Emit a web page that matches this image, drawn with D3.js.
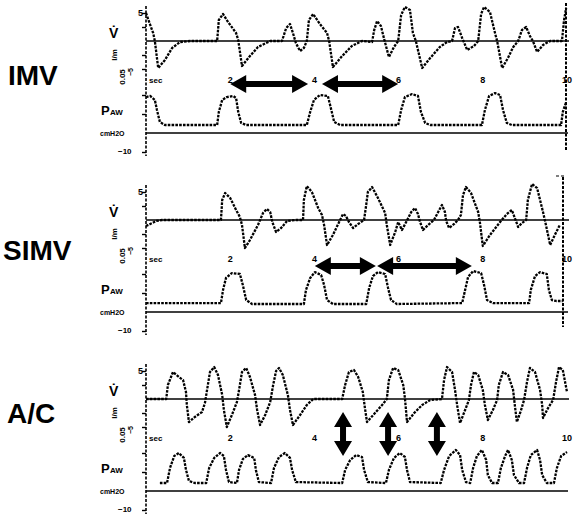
<!DOCTYPE html>
<html><head><meta charset="utf-8">
<script src="https://cdn.jsdelivr.net/npm/d3@7"></script>
<style>body{margin:0;background:#fff}svg{display:block}</style>
</head><body><svg id="c" width="583" height="517"></svg>
<script>
const modes = ["IMV", "SIMV", "A/C"];
const timeTicks = [2, 4, 6, 8, 10];

// Flow (l/s) vs time (s)
const imvFlow = [[0,5.0],[0.10,2.86],[0.17,1.43],[0.21,0],[0.29,-4.82],[0.45,-3.39],[0.62,-1.25],[0.81,-0.18],[1.05,0],[1.69,0],[1.73,3.75],[1.83,4.82],[1.95,3.39],[2.14,1.43],[2.19,0.18],[2.28,-4.46],[2.47,-2.68],[2.66,-1.07],[2.95,0],[3.23,0],[3.33,2.32],[3.42,3.04],[3.49,1.43],[3.56,-0.36],[3.66,-1.79],[3.75,-1.25],[3.82,0],[3.87,3.75],[3.97,4.82],[4.13,3.04],[4.30,1.43],[4.35,0],[4.44,-4.64],[4.66,-2.68],[4.89,-0.89],[5.13,0],[5.37,-0.18],[5.42,1.96],[5.49,3.57],[5.58,2.68],[5.65,0.54],[5.77,-2.86],[5.89,-1.07],[5.99,0],[6.06,4.64],[6.15,6.07],[6.27,5.54],[6.34,1.43],[6.41,0],[6.56,-4.82],[6.75,-3.04],[6.98,-1.07],[7.15,-0.18],[7.27,0],[7.34,2.32],[7.41,2.5],[7.51,0.54],[7.63,-1.61],[7.79,-0.89],[7.89,0],[7.96,4.82],[8.03,6.07],[8.17,5.18],[8.29,1.43],[8.34,0],[8.46,-4.82],[8.60,-3.0],[8.72,-1.1],[8.84,0],[8.93,1.96],[9.03,2.5],[9.12,0.89],[9.19,0],[9.29,-1.96],[9.43,-0.71],[9.60,0],[9.88,0],[9.93,3.75],[9.98,5.89]];
const simvFlow = [[0,-1.07],[0.10,-0.71],[0.24,-0.18],[0.38,0],[1.78,0],[1.81,3.57],[1.88,4.82],[2.00,3.93],[2.14,1.79],[2.23,0.54],[2.28,-0.89],[2.35,-5.0],[2.47,-3.57],[2.66,-0.89],[2.78,1.25],[2.87,1.96],[2.95,1.43],[3.0,-0.36],[3.09,-2.14],[3.21,-1.43],[3.35,-0.18],[3.54,0],[3.73,0],[3.75,3.57],[3.82,6.07],[3.94,5.0],[4.09,2.14],[4.18,0.89],[4.23,-0.89],[4.30,-4.46],[4.44,-2.68],[4.61,0],[4.68,1.07],[4.75,0.71],[4.82,-0.36],[4.92,-1.43],[5.04,-0.71],[5.18,0],[5.23,2.68],[5.27,5.0],[5.37,5.89],[5.51,3.93],[5.68,1.25],[5.72,-0.89],[5.80,-4.46],[5.92,-2.14],[5.99,-0.36],[6.08,-1.79],[6.18,-0.36],[6.30,1.43],[6.39,2.14],[6.46,1.07],[6.51,-0.36],[6.58,-1.79],[6.70,-0.89],[6.84,0],[6.94,1.43],[7.03,2.68],[7.10,1.43],[7.13,-0.18],[7.20,-1.43],[7.32,-0.71],[7.41,0],[7.48,0.89],[7.53,4.46],[7.60,5.89],[7.72,4.82],[7.89,1.43],[7.93,-0.36],[8.0,-4.64],[8.17,-2.68],[8.41,-0.36],[8.57,1.07],[8.69,1.79],[8.76,0.36],[8.84,-1.25],[8.93,-0.54],[9.03,0],[9.07,3.57],[9.17,6.43],[9.29,5.71],[9.43,1.43],[9.50,-0.89],[9.60,-4.46],[9.71,-2.68],[9.83,-0.89]];
const acFlow = [[0,0],[0.48,0],[0.52,2.5],[0.64,4.82],[0.78,3.93],[0.88,3.39],[0.95,1.25],[0.97,-1.07],[1.02,-4.11],[1.16,-3.21],[1.33,-2.32],[1.40,-0.71],[1.45,1.61],[1.52,4.82],[1.62,5.71],[1.71,4.29],[1.81,0.71],[1.85,-1.96],[1.92,-5.0],[2.04,-2.86],[2.16,-0.54],[2.21,1.61],[2.28,4.82],[2.38,5.54],[2.47,3.93],[2.59,0.71],[2.64,-1.96],[2.71,-4.64],[2.83,-2.86],[2.95,-0.54],[3.02,2.5],[3.09,5.0],[3.16,5.54],[3.25,4.29],[3.37,0.71],[3.42,-1.96],[3.49,-4.64],[3.66,-2.86],[3.82,-1.07],[3.97,0],[4.66,0],[4.73,2.5],[4.82,4.82],[4.94,5.18],[5.04,3.93],[5.15,1.25],[5.20,-1.61],[5.25,-4.11],[5.44,-2.5],[5.63,-0.89],[5.72,0],[5.77,3.39],[5.87,5.54],[5.99,5.18],[6.11,2.5],[6.15,0.18],[6.20,-4.11],[6.37,-2.5],[6.56,-1.07],[6.75,-0.18],[7.03,0],[7.08,3.39],[7.15,5.71],[7.27,4.82],[7.34,1.61],[7.39,-1.07],[7.46,-4.29],[7.58,-1.96],[7.67,-0.18],[7.72,2.5],[7.79,4.82],[7.89,4.29],[8.0,1.61],[8.05,-1.07],[8.12,-3.75],[8.24,-1.96],[8.34,-0.18],[8.38,2.5],[8.48,4.82],[8.60,4.29],[8.72,1.61],[8.76,-1.07],[8.81,-4.11],[8.91,-1.96],[8.98,-0.18],[9.05,3.04],[9.12,5.54],[9.24,4.82],[9.36,1.61],[9.41,-1.07],[9.43,-3.39],[9.55,-1.61],[9.67,-0.18],[9.74,3.04],[9.81,5.71],[9.90,5.18],[10.0,1.25]];

// Airway pressure (cmH2O) vs time (s)
const imvPaw = [[0,18.9],[0.10,19.5],[0.21,17.4],[0.26,12.1],[0.33,5.8],[0.45,4.2],[1.69,4.2],[1.73,11.1],[1.81,17.4],[1.92,18.9],[2.07,19.5],[2.14,18.4],[2.19,11.1],[2.26,5.3],[2.38,4.2],[3.82,4.2],[3.90,11.1],[3.99,17.4],[4.13,20],[4.32,19.5],[4.39,13.2],[4.47,5.8],[4.61,4.2],[5.99,4.2],[6.06,12.1],[6.15,18.9],[6.32,20.5],[6.46,19.5],[6.53,11.1],[6.63,5.3],[6.75,4.2],[7.98,4.2],[8.05,12.1],[8.15,19.5],[8.29,21],[8.41,20],[8.48,12.1],[8.57,5.3],[8.69,4.2],[9.86,4.2],[9.90,11.1],[9.98,16.3]];
const simvPaw = [[0,4.7],[1.78,4.7],[1.83,11.6],[1.90,17.9],[2.04,20.5],[2.23,20],[2.30,14.2],[2.38,6.3],[2.52,4.2],[3.75,4.2],[3.80,11.6],[3.90,17.9],[4.01,21],[4.16,19.5],[4.23,14.2],[4.30,6.3],[4.44,4.2],[5.23,4.2],[5.30,12.6],[5.39,18.9],[5.51,21],[5.68,20],[5.75,12.6],[5.82,6.3],[5.96,4.2],[7.51,4.7],[7.58,11.6],[7.65,18.4],[7.77,21.6],[7.96,20.5],[8.03,14.2],[8.10,6.3],[8.24,4.7],[9.10,4.7],[9.14,11.6],[9.24,18.9],[9.36,21],[9.52,20],[9.57,11.6],[9.64,6.3],[9.74,5.8],[9.90,5.8]];
const acPaw = [[0.33,4.2],[0.50,4.2],[0.57,12.1],[0.67,18.4],[0.78,20],[0.90,17.4],[0.95,11.1],[1.02,5.3],[1.16,4.2],[1.43,4.2],[1.50,12.1],[1.62,17.4],[1.76,20],[1.85,18.4],[1.90,11.1],[1.97,4.7],[2.16,4.2],[2.21,11.1],[2.30,16.8],[2.42,18.9],[2.57,17.4],[2.61,11.1],[2.68,4.7],[2.97,4.2],[3.04,12.1],[3.16,17.9],[3.30,20],[3.42,17.4],[3.47,11.1],[3.56,4.7],[4.66,4.2],[4.73,11.1],[4.85,16.3],[4.99,18.9],[5.13,17.9],[5.18,11.1],[5.27,4.7],[5.70,4.2],[5.77,11.1],[5.89,17.4],[6.03,20],[6.15,17.9],[6.20,11.1],[6.27,4.7],[7.0,4.2],[7.08,11.1],[7.20,18.4],[7.36,21.6],[7.46,18.9],[7.51,11.1],[7.60,4.7],[7.70,4.2],[7.77,12.1],[7.86,18.4],[7.98,21.6],[8.08,16.3],[8.12,8.4],[8.22,4.2],[8.36,4.2],[8.43,12.1],[8.53,18.4],[8.60,21.6],[8.69,16.3],[8.74,8.4],[8.86,4.2],[8.98,4.2],[9.05,12.1],[9.14,18.9],[9.29,21.6],[9.36,16.3],[9.41,8.4],[9.52,4.2],[9.69,4.2],[9.76,12.1],[9.86,18.4],[10.0,20.5]];

// Annotation arrows (seconds)
const imvArrows = [[2.0, 3.85], [4.18, 5.99]];
const simvArrows = [[4.01, 5.46], [5.49, 7.74]];
const acArrows = [4.68, 5.75, 6.91];

const flows = [imvFlow, simvFlow, acFlow];
const paws = [imvPaw, simvPaw, acPaw];

const svg = d3.select("#c");
const x = d3.scaleLinear().domain([0, 10]).range([146, 567]);
const panelTop = [0, 179, 358];
const modeLabelPos = [[8, 85], [3, 260], [7, 423]];
const FONT = "Liberation Sans, Arial, sans-serif";

function hArrow(g, x1, x2, y) {
  const hl = 16, hh = 9, st = 3;
  const pts = [[x1, y], [x1 + hl, y - hh], [x1 + hl, y - st], [x2 - hl, y - st], [x2 - hl, y - hh], [x2, y],
               [x2 - hl, y + hh], [x2 - hl, y + st], [x1 + hl, y + st], [x1 + hl, y + hh]];
  g.append("polygon").attr("points", pts.map(p => p.join(",")).join(" ")).attr("fill", "#000");
}
function vArrow(g, xc, y1, y2) {
  const hl = 15, hh = 9, st = 3;
  const pts = [[xc, y1], [xc + hh, y1 + hl], [xc + st, y1 + hl], [xc + st, y2 - hl], [xc + hh, y2 - hl], [xc, y2],
               [xc - hh, y2 - hl], [xc - st, y2 - hl], [xc - st, y1 + hl], [xc - hh, y1 + hl]];
  g.append("polygon").attr("points", pts.map(p => p.join(",")).join(" ")).attr("fill", "#000");
}

modes.forEach((mode, i) => {
  const oy = panelTop[i];
  const g = svg.append("g");
  const fy = d3.scaleLinear().domain([-5, 5]).range([69 + oy, 13 + oy]);
  const py = d3.scaleLinear().domain([-10, 20]).range([152 + oy, 95 + oy]);

  // mode label
  g.append("text").attr("x", modeLabelPos[i][0]).attr("y", modeLabelPos[i][1])
    .attr("font-family", FONT).attr("font-weight", "bold").attr("font-size", 28).text(mode);

  // left axis (dashed)
  g.append("line").attr("x1", x(0)).attr("x2", x(0)).attr("y1", 6 + oy).attr("y2", 156 + oy)
    .attr("stroke", "#000").attr("stroke-width", 1.6).attr("stroke-dasharray", "3,1.5");
  const fa = g.append("g").attr("transform", `translate(${x(0)},0)`)
    .call(d3.axisLeft(fy).tickValues([5, 2.5, -2.5, -5]).tickSize(4).tickFormat(""));
  const pa = g.append("g").attr("transform", `translate(${x(0)},0)`)
    .call(d3.axisLeft(py).tickValues([20, 10, -10]).tickSize(4).tickFormat(""));
  [fa, pa].forEach(a => { a.select(".domain").remove(); a.selectAll("line").attr("stroke", "#000").attr("stroke-width", 1.4); });

  // baselines
  g.append("line").attr("x1", x(0)).attr("x2", x(10) + 2).attr("y1", fy(0)).attr("y2", fy(0))
    .attr("stroke", "#000").attr("stroke-width", 1.6);
  g.append("line").attr("x1", x(0)).attr("x2", x(10) + 1).attr("y1", py(0)).attr("y2", py(0))
    .attr("stroke", "#000").attr("stroke-width", 1.6);

  // right edge marker
  if (i < 2) {
    const rx = i === 0 ? 566 : 563;
    g.append("line").attr("x1", rx).attr("x2", rx).attr("y1", (i === 0 ? 3 : 177)).attr("y2", (i === 0 ? 150 : 327))
      .attr("stroke", "#000").attr("stroke-width", 2).attr("stroke-dasharray", "3,1.5");
    if (i === 1) g.append("line").attr("x1", 556).attr("x2", 566).attr("y1", 176).attr("y2", 176)
      .attr("stroke", "#000").attr("stroke-width", 1.2).attr("stroke-dasharray", "3,2");
  }

  // waveforms
  const line = (ys) => d3.line().x(d => x(d[0])).y(d => ys(d[1]));
  g.append("path").datum(flows[i]).attr("d", line(fy)).attr("fill", "none")
    .attr("stroke", "#000").attr("stroke-width", 2.3).attr("stroke-dasharray", "2.6,1.2").attr("stroke-linejoin", "round");
  g.append("path").datum(paws[i]).attr("d", line(py)).attr("fill", "none")
    .attr("stroke", "#000").attr("stroke-width", 2.3).attr("stroke-dasharray", "2.6,1.2").attr("stroke-linejoin", "round");

  // time tick labels
  const ty = 83 + oy;
  g.append("text").attr("x", x(0) + 3).attr("y", ty).attr("font-family", FONT).attr("font-weight", "bold")
    .attr("font-size", 8).text("sec");
  g.selectAll(".tt").data(timeTicks).enter().append("text")
    .attr("x", d => x(d)).attr("y", ty).attr("text-anchor", "middle")
    .attr("font-family", FONT).attr("font-weight", "bold").attr("font-size", 9).text(d => d);

  // left labels
  const lab = (tx, tyy, s, size, rot) => {
    const t = g.append("text").attr("font-family", FONT).attr("font-weight", "bold").attr("font-size", size).text(s);
    if (rot) t.attr("transform", `translate(${tx},${tyy + oy}) rotate(-90)`).attr("text-anchor", "middle");
    else t.attr("x", tx).attr("y", tyy + oy);
  };
  lab(138, 16, "5", 9);
  lab(109, 38, "V\u0307", 14);
  lab(117, 55, "l/m", 8, true);
  lab(125, 77, "0.05", 8, true);
  lab(133, 72, "\u22125", 7, true);
  lab(101, 115, "P", 13);
  lab(110, 115, "AW", 8);
  lab(100, 136, "cmH2O", 7);
  lab(118, 154, "\u221210", 8);

  // arrows
  if (i === 0) imvArrows.forEach(a => hArrow(g, x(a[0]), x(a[1]), 84));
  if (i === 1) simvArrows.forEach(a => hArrow(g, x(a[0]), x(a[1]), 266));
  if (i === 2) acArrows.forEach(t => vArrow(g, x(t), 412, 456));
});
</script>
</body></html>
